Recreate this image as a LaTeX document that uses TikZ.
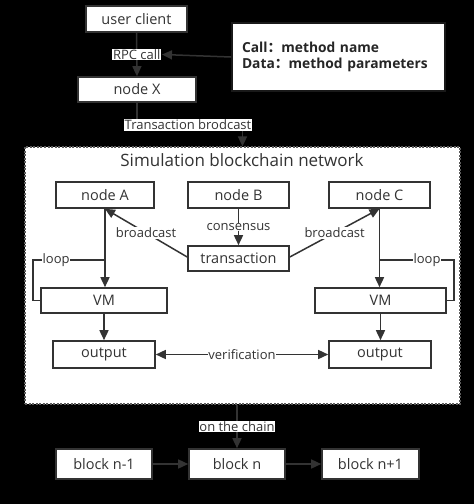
\documentclass[tikz,border=0pt]{standalone}
\usepackage{fontspec}
\setmainfont{Open Sans}
\newfontfamily\cjk{Noto Sans CJK SC}
\usetikzlibrary{arrows.meta,calc}
\definecolor{ink}{HTML}{333333}
\begin{document}
\begin{tikzpicture}[x=1pt,y=-1pt,
  box/.style={draw=ink, line width=1.6pt, fill=white, inner sep=0pt, text=ink,
    font=\fontsize{14.5}{16}\selectfont},
  lbl/.style={fill=white, inner sep=0.8pt, text=ink, font=\fontsize{13}{14}\selectfont},
  conn/.style={draw=ink, line width=1.5pt},
  arr/.style={conn, -{Triangle[length=10pt,width=9pt]}},
  darr/.style={conn, {Triangle[length=10pt,width=9pt]}-{Triangle[length=10pt,width=9pt]}},
]
\fill[black] (0,0) rectangle (474,504);
\useasboundingbox (0,0) rectangle (474,504);

% top part
\node[box, minimum width=101pt, minimum height=26pt] (uc) at (136.5,19) {user client};
\node[box, minimum width=118pt, minimum height=25pt] (nx) at (137,89.5) {node X};
\node[box, line width=1.8pt, draw=black!90, minimum width=213pt, minimum height=68pt,
  text width=193pt, inner xsep=10pt, align=left, text=black!85,
  font=\bfseries\fontsize{13.8}{16.5}\selectfont] (cb) at (338.5,57)
  {Call{\cjk ：}method name\\Data{\cjk ：}method parameters};

\draw[arr] (uc.south) -- node[lbl] (rpc) {RPC call} (nx.north);
\draw[arr] (cb.west) -- (rpc.east);

% network box
\node[draw=ink!80, dashed, dash pattern=on 2pt off 1.5pt, line width=1.2pt, fill=white,
  minimum width=435pt, minimum height=257pt, inner sep=0pt] (net) at (242.5,275.5) {};
\node[text=ink, font=\fontsize{17}{19}\selectfont] (title) at (242,160) {Simulation blockchain network};

\coordinate (tb) at (188,125);
\draw[arr] (nx.south) -- (nx.south |- tb) -- (net.north |- tb) -- (net.north);
\node[lbl] (tbl) at (tb) {Transaction brodcast};

\node[box, minimum width=98pt, minimum height=26pt] (na) at (105,195) {node A};
\node[box, minimum width=101pt, minimum height=26pt] (nb) at (238.5,195) {node B};
\node[box, minimum width=101pt, minimum height=26pt] (nc) at (379.5,195) {node C};
\node[box, minimum width=101pt, minimum height=25pt] (tr) at (238.5,258.5) {transaction};
\node[box, minimum width=126pt, minimum height=25pt] (vma) at (104,300.5) {VM};
\node[box, minimum width=131pt, minimum height=25pt] (vmc) at (380.5,300.5) {VM};
\node[box, minimum width=102pt, minimum height=27pt] (oa) at (104,354.5) {output};
\node[box, minimum width=102pt, minimum height=27pt] (oc) at (380,354.5) {output};

\draw[arr] (nb.south) -- node[lbl] {consensus} (tr.north);
\draw[arr] ([yshift=1.5pt]tr.west) -- node[lbl] {broadcast} (na.south);
\draw[arr] ([yshift=1.5pt]tr.east) -- node[lbl] {broadcast} (nc.south);
\draw[arr] (na.south) -- (na.south |- vma.north);
\draw[arr] (nc.south) -- (nc.south |- vmc.north);
\draw[conn] (vma.west) -- ++(-7,0) |- node[lbl, pos=0.66] {loop} ([yshift=-51pt]na.south);
\draw[conn] (vmc.east) -- ++(7,0) |- node[lbl, pos=0.68] {loop} ([yshift=-51pt]nc.south);
\draw[arr] (vma.south) -- (oa.north);
\draw[arr] (vmc.south) -- (vmc.south |- oc.north);
\draw[darr] (oa.east) -- node[lbl] {verification} (oc.west);

% chain
\node[box, minimum width=96pt, minimum height=30pt] (b1) at (104,464) {block n-1};
\node[box, minimum width=96pt, minimum height=30pt] (b2) at (237,464) {block n};
\node[box, minimum width=97pt, minimum height=30pt] (b3) at (370.5,464) {block n+1};
\draw[arr] (b2.north |- net.south) -- node[lbl] {on the chain} (b2.north);
\draw[arr] (b1.east) -- (b2.west);
\draw[arr] (b2.east) -- (b3.west);
\end{tikzpicture}
\end{document}
